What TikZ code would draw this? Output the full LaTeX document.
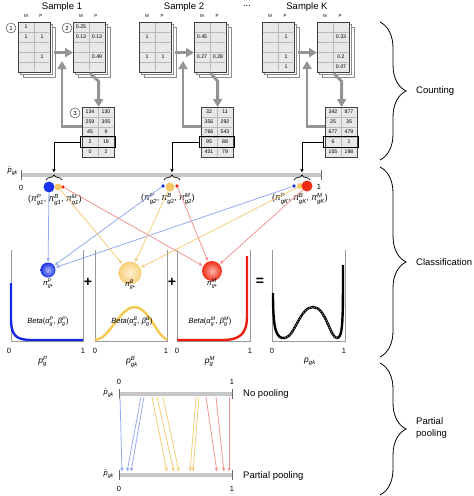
\documentclass[tikz,border=0pt]{standalone}
\usepackage{amsmath}
\usepackage{fontspec}
\setmainfont{Liberation Sans}
\usetikzlibrary{arrows.meta,calc,decorations.pathreplacing}

\definecolor{cblue}{RGB}{25,50,235}
\definecolor{cyel}{RGB}{248,200,100}
\definecolor{cred}{RGB}{240,45,20}
\definecolor{lblue}{RGB}{150,170,240}
\definecolor{lyel}{RGB}{245,205,120}
\definecolor{lred}{RGB}{242,150,145}
\definecolor{pyel}{RGB}{245,200,80}
\definecolor{pblue}{RGB}{20,40,230}
\definecolor{pred}{RGB}{235,30,15}

\newcommand\myIt[1]{\textit{#1}}
\newcommand\mySym[3]{\ensuremath{\myIt{#1}^{\myIt{#2}}_{\myIt{#3}}}}

\tikzset{
 sheet/.style={draw=black!45, fill=white, line width=0.5pt},
 tbl/.style={draw=black!75, fill=black!9, line width=1.2pt, minimum width=32pt, minimum height=50pt, inner sep=0pt, anchor=north west},
 gridl/.style={draw=black!28, line width=0.4pt},
 cell/.style={font=\fontsize{5.2}{6}\selectfont, inner sep=0pt},
 hdr/.style={font=\fontsize{4.5}{5}\selectfont, inner sep=0pt},
 garrow/.style={draw=black!42, line width=2.8pt, -{Triangle[length=8pt,width=9pt]}},
 numc/.style={circle, draw=black!70, fill=white, line width=0.5pt, minimum size=10pt, inner sep=0pt, font=\fontsize{6}{6}\selectfont},
 hl/.style={draw=black, line width=0.9pt, minimum width=35pt, minimum height=10.5pt, inner sep=0pt},
 blk/.style={draw=black, line width=0.8pt, -{Latex[length=4pt,width=3.5pt]}},
 bar/.style={draw=black!22, line width=4pt},
 tickm/.style={draw=black!60, line width=0.9pt},
 lbl/.style={font=\fontsize{9.5}{12}\selectfont, inner sep=0pt},
 sml/.style={font=\fontsize{7.5}{9}\selectfont, inner sep=0pt},
 tup/.style={font=\fontsize{8.5}{10}\selectfont, inner sep=0pt},
 tiny/.style={font=\fontsize{7.5}{8}\selectfont, inner sep=0pt},
 pframe/.style={draw=black!40, line width=0.7pt},
 brc/.style={decorate, decoration={brace, amplitude=5pt}, draw=black, line width=0.7pt},
 bigbrace/.style={decorate, decoration={brace, amplitude=26pt}, draw=black, line width=0.8pt},
 dotc/.style={circle, inner sep=0pt},
 ballc/.style={circle, inner sep=0pt, shading=radial},
 ab/.style={draw=lblue, line width=0.8pt, -{Latex[length=4pt,width=3.5pt]}},
 ay/.style={draw=lyel, line width=0.8pt, -{Latex[length=4pt,width=3.5pt]}},
 ar/.style={draw=lred, line width=0.8pt, -{Latex[length=4pt,width=3.5pt]}},
 cBlue/.style={draw=pblue, line width=2.4pt},
 cYel/.style={draw=pyel, line width=2.4pt},
 cRed/.style={draw=pred, line width=2.4pt},
 cBlack/.style={draw=black, line width=2.4pt},
 sgn/.style={font=\fontsize{14}{14}\selectfont\bfseries, inner sep=0pt},
}

\newcommand\mkTable[5]{%
  \ifnum#4=1
    \draw[sheet] (#2+5,#3+5) rectangle ++(32,50);
    \draw[sheet] (#2+2.5,#3+2.5) rectangle ++(32,50);
    \node[hdr] (#1-hM) at (#2+8,#3-6) {M};
    \node[hdr] (#1-hP) at (#2+23,#3-6) {P};
  \fi
  \node[tbl] (#1) at (#2,#3) {};
  \foreach \kk in {1,...,4}{\draw[gridl] (#2+0.6,#3+10*\kk) -- (#2+31.4,#3+10*\kk);}
  \draw[gridl] (#2+16,#3+0.6) -- (#2+16,#3+49.4);
  \foreach \rr/\cc/\tx in {#5}{\node[cell] (#1-\rr-\cc) at (#2+16*\cc-8,#3+10*\rr-5) {\tx};}
}

\begin{document}
\begin{tikzpicture}[x=1pt,y=-1pt]
\useasboundingbox (0,0) rectangle (474,496);

% ---------- titles
\node[lbl] (t1) at (62,7) {Sample 1};
\node[lbl] (t2) at (184,7) {Sample 2};
\node[lbl] (tdots) at (247,6) {...};
\node[lbl] (tk) at (307,7) {Sample K};

% ---------- tables
\mkTable{s1a}{18}{22}{1}{1/1/1, 2/1/1, 2/2/1, 4/2/1}
\mkTable{s1b}{73}{22}{1}{1/1/0.25, 2/1/0.13, 2/2/0.13, 4/2/0.49}
\mkTable{s1c}{82}{107}{0}{1/1/134,1/2/130,2/1/259,2/2/305,3/1/45,3/2/9,4/1/2,4/2/19,5/1/0,5/2/2}

\mkTable{s2a}{139}{22}{1}{2/1/1, 4/1/1, 4/2/1}
\mkTable{s2b}{194}{22}{1}{2/1/0.45, 4/1/0.27, 4/2/0.28}
\mkTable{s2c}{201}{107}{0}{1/1/32,1/2/11,2/1/356,2/2/292,3/1/766,3/2/543,4/1/95,4/2/88,5/1/451,5/2/79}

\mkTable{sKa}{262}{22}{1}{2/2/1, 4/2/1, 5/2/1}
\mkTable{sKb}{317}{22}{1}{2/2/0.33, 4/2/0.2, 5/2/0.47}
\mkTable{sKc}{325}{107}{0}{1/1/342,1/2/877,2/1/25,2/2/35,3/1/677,3/2/479,4/1/6,4/2/1,5/1/155,5/2/198}

\node[numc] (n1) at (11,28) {1};
\node[numc] (n2) at (67,28) {2};
\node[numc] (n3) at (75,113) {3};

% ---------- gray arrows
\coordinate (r1) at (62,61);
\coordinate (r2) at (183,61);
\coordinate (rK) at (307,61);
\foreach \s/\r in {s1/r1, s2/r2, sK/rK}{
  \draw[garrow] ([xshift=3pt,yshift=-5pt]\s a.east) -- ([yshift=-5pt]\s b.west);
  \draw[garrow] (\s b.south) -- ($(\s b.south -| \s c.north)+(0,8)$) -- (\s c.north);
  \draw[garrow] ([yshift=6pt]\s c.west) -| (\r);
}

% ---------- highlight rows and black connectors
\node[hl] (h1) at ($(s1c.north west)+(16,35)$) {};
\node[hl] (h2) at ($(s2c.north west)+(16,35)$) {};
\node[hl] (hK) at ($(sKc.north west)+(16,35)$) {};

% ---------- p-hat bar
\coordinate (bar0) at (21,175);
\coordinate (bar1) at (321,175);
\draw[bar] (bar0) -- (bar1);
\draw[tickm] ([yshift=5pt]bar0) -- ([yshift=-5pt]bar0);
\draw[tickm] ([yshift=5pt]bar1) -- ([yshift=-5pt]bar1);
\node[sml, anchor=east] (phat) at (18,171) {$\hat{\myIt{p}}_{\myIt{gk}}$};
\node[sml] (z0) at (21,188) {0};
\node[sml] (z1) at (319,187) {1};

\coordinate (bt1) at (54,173);
\coordinate (bt2) at (172,173);
\coordinate (btK) at (302,173);
\draw[brc] (46,180) -- (62,180);
\draw[brc] (164,180) -- (180,180);
\draw[brc] (294,180) -- (310,180);
\draw[blk] (h1.west) -| (bt1);
\draw[blk] (h2.west) -| (bt2);
\draw[blk] (hK.west) -| (btK);

% ---------- proportions
\node[dotc, fill=cblue, minimum size=11pt] (c1P) at (49,187) {};
\node[dotc, fill=cyel, minimum size=7pt] (c1B) at (58,187) {};
\node[dotc, fill=cred, minimum size=3.6pt] (c1M) at (63,187) {};
\node[dotc, fill=cblue, minimum size=3.6pt] (c2P) at (163,186) {};
\node[dotc, fill=cyel, minimum size=9pt] (c2B) at (170,187) {};
\node[dotc, fill=cred, minimum size=3.6pt] (c2M) at (177,186) {};
\node[dotc, fill=cblue, minimum size=3.6pt] (cKP) at (294,186) {};
\node[dotc, fill=cyel, minimum size=6pt] (cKB) at (300,186) {};
\node[dotc, fill=cred, minimum size=11pt] (cKM) at (307,186) {};

\node[tup] (L1) at (55,200) {(\mySym{π}{P}{g1}, \mySym{π}{B}{g1}, \mySym{π}{M}{g1})};
\node[tup] (L2) at (168,199) {(\mySym{π}{P}{g2}, \mySym{π}{B}{g2}, \mySym{π}{M}{g2})};
\node[tup] (LK) at (300,199) {(\mySym{π}{P}{gK}, \mySym{π}{B}{gK}, \mySym{π}{M}{gK})};

% ---------- class balls
\node[ballc, inner color=cblue!35, outer color=cblue, minimum size=15pt] (piP) at (48,270) {};
\node[ballc, inner color=cyel!30, outer color=cyel!85, minimum size=23pt] (piB) at (130,273) {};
\node[ballc, inner color=cred!35, outer color=cred, minimum size=20pt] (piM) at (212,271) {};
\node[tiny] (lP) at (48,284) {\mySym{π}{P}{g•}};
\node[tiny] (lB) at (130,285) {\mySym{π}{B}{g•}};
\node[tiny] (lM) at (212,284) {\mySym{π}{M}{g•}};

\draw[ab] (c1P) -- (piP);
\draw[ab] (c2P) -- (piP);
\draw[ab] (cKP) -- (piP);
\draw[ay] (c1B) -- (piB);
\draw[ay] (c2B) -- (piB);
\draw[ay] (cKB) -- (piB);
\draw[ar] (c1M) -- (piM);
\draw[ar] (c2M) -- (piM);
\draw[ar] (cKM) -- (piM);

% ---------- plots
\draw[pframe] (11,250) -- (11,341) -- (83,341) -- (83,250);
\draw[pframe] (95,250) -- (95,341) -- (167,341) -- (167,250);
\draw[pframe] (177,250) -- (177,341) -- (250,341) -- (250,250);
\draw[pframe] (272,250) -- (272,341) -- (345,341) -- (345,250);

\draw[cBlue] (11,283) -- (11,318) .. controls (11,336) and (16,340) .. (32,340) -- (83,340);
\draw[cYel] plot[smooth] coordinates {(95,340) (102.2,337.3) (109.4,330) (116.6,320.7) (123.8,312.5) (131,307.6) (138.2,307.7) (145.4,312.9) (152.6,322.5) (159.8,333.5) (167,340)};
\draw[cRed] (177,340) -- (222,340) .. controls (240,340) and (247,334) .. (247,316) -- (247,256);
\draw[cBlack] (273,293) .. controls (273,330) and (276,339) .. (285,338) .. controls (295,336) and (300,307) .. (313,307) .. controls (326,307) and (330,338) .. (337,338) .. controls (343,338) and (343,320) .. (343,265);
\draw[draw=black!45, line width=1pt, dash pattern=on 1pt off 1.6pt] (285,338) .. controls (295,336) and (300,307) .. (313,307) .. controls (326,307) and (330,338) .. (337,338);

\node[sgn] (plus1) at (88,282) {+};
\node[sgn] (plus2) at (172,282) {+};
\node[sgn] (eq) at (260,282) {=};

\node[sml] (be1) at (48,322) {\myIt{Beta}(\mySym{α}{P}{g}, \mySym{β}{P}{g})};
\node[sml] (be2) at (132,322) {\myIt{Beta}(\mySym{α}{B}{g}, \mySym{β}{B}{g})};
\node[sml] (be3) at (210,322) {\myIt{Beta}(\mySym{α}{M}{g}, \mySym{β}{M}{g})};

\node[sml] (a10) at (9,351) {0};
\node[sml] (a11) at (83,351) {1};
\node[sml] (a20) at (95,351) {0};
\node[sml] (a21) at (166,351) {1};
\node[sml] (a30) at (177,351) {0};
\node[sml] (a31) at (250,351) {1};
\node[sml] (a40) at (272,351) {0};
\node[sml] (a41) at (344,351) {1};

\node[tup] (pl1) at (43,362) {\mySym{p}{P}{g}};
\node[tup] (pl2) at (132,362) {\mySym{p}{B}{gk}};
\node[tup] (pl3) at (210,362) {\mySym{p}{M}{g}};
\node[tup] (pl4) at (310,362) {$\myIt{p}_{\myIt{gk}}$};

% ---------- partial pooling
\coordinate (nb0) at (119,394);
\coordinate (nb1) at (232,394);
\coordinate (pp0) at (119,475);
\coordinate (pp1) at (232,475);
\draw[bar] (nb0) -- (nb1);
\draw[bar] (pp0) -- (pp1);
\foreach \q in {nb0,nb1,pp0,pp1}{\draw[tickm] ([yshift=5pt]\q) -- ([yshift=-5pt]\q);}
\node[sml, anchor=east] (ph2) at (114,393) {$\hat{\myIt{p}}_{\myIt{gk}}$};
\node[sml, anchor=east] (pt2) at (114,474) {$\tilde{\myIt{p}}_{\myIt{gk}}$};
\node[sml] (nz0) at (119,382) {0};
\node[sml] (nz1) at (232,382) {1};
\node[sml] (pz0) at (119,489) {0};
\node[sml] (pz1) at (232,489) {1};
\node[lbl, anchor=west] (nop) at (243,394) {No pooling};
\node[lbl, anchor=west] (parp) at (243,476) {Partial pooling};

\foreach \a/\b [count=\i] in {120/122, 141/127, 144/131}{
  \coordinate (bt\i) at (\a,397); \coordinate (bb\i) at (\b,472);
  \draw[ab] (bt\i) -- (bb\i);}
\foreach \a/\b [count=\i] in {152/167, 157/174, 163/179, 196/190, 199/193}{
  \coordinate (yt\i) at (\a,397); \coordinate (yb\i) at (\b,472);
  \draw[ay] (yt\i) -- (yb\i);}
\foreach \a/\b [count=\i] in {206/217, 216/224, 229/229}{
  \coordinate (rt\i) at (\a,397); \coordinate (rb\i) at (\b,472);
  \draw[ar] (rt\i) -- (rb\i);}

% ---------- section braces
\draw[bigbrace] (380,22) -- (380,160);
\draw[bigbrace] (380,167) -- (380,357);
\draw[bigbrace] (380,363) -- (380,495);
\node[lbl, anchor=west] (sec1) at (416,91) {Counting};
\node[lbl, anchor=west] (sec2) at (416,262) {Classification};
\node[lbl, anchor=west, align=left] (sec3) at (416,428) {Partial\\pooling};
\end{tikzpicture}
\end{document}
